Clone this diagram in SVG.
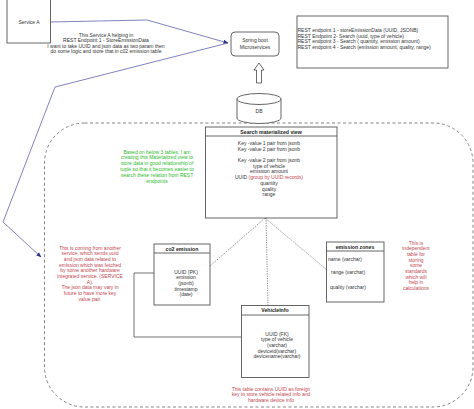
<svg xmlns="http://www.w3.org/2000/svg" width="474" height="409" viewBox="0 0 474 409">
<defs>
<style>
text{font-family:"Liberation Sans",Arial,sans-serif;font-size:5px;fill:#333}
.c{text-anchor:middle}
.b{font-weight:bold;font-size:5.2px;fill:#222}
.red{fill:#bf4752}
.grn{fill:#2dbb2d}
.box{fill:#fff;stroke:#555;stroke-width:0.9}
.blue{fill:none;stroke:#6262b0;stroke-width:0.8}
.dot{fill:none;stroke:#555;stroke-width:0.7;stroke-dasharray:1.2,1.2}
</style>
<marker id="ah" viewBox="0 0 6 6" refX="5.5" refY="3" markerWidth="5" markerHeight="5" orient="auto" markerUnits="userSpaceOnUse"><path d="M0,0.5 L6,3 L0,5.5 Z" fill="#33338a"/></marker>
<marker id="ak" viewBox="0 0 6 6" refX="5.5" refY="3" markerWidth="5" markerHeight="5" orient="auto" markerUnits="userSpaceOnUse"><path d="M0,0.5 L6,3 L0,5.5 Z" fill="#222"/></marker>
</defs>
<rect width="474" height="409" fill="#fff"/>

<g id="boundary">
<rect x="44.5" y="123" width="428.5" height="284" rx="40" ry="40" fill="none" stroke="#666" stroke-width="0.8" stroke-dasharray="3,2.5"/>
</g>

<g id="connectors">
<polyline class="blue" points="50,22 147,20 228,43" marker-end="url(#ah)"/>
<polyline class="blue" points="228,43 55,87 3,222 41,257" marker-end="url(#ah)"/>
<line class="dot" x1="265" y1="218" x2="210" y2="266"/>
<line class="dot" x1="266" y1="218" x2="268" y2="305"/>
<line x1="265" y1="218" x2="327" y2="270" stroke="#666" stroke-width="0.5" stroke-dasharray="2,0.8"/>
<polyline points="170,273 134,273 134,337 264,337" fill="none" stroke="#333" stroke-width="0.7" marker-end="url(#ak)"/>
</g>

<g id="serviceA">
<rect class="box" x="7" y="-2" width="43.5" height="45"/>
<text class="c" x="29" y="24">Service A</text>
</g>

<g id="serviceA-note">
<text class="c" x="106" y="36.5">This Service A helping in</text>
<text class="c" x="106" y="42">REST Endpoint 1 - StoreEmissionData</text>
<text class="c" x="106" y="47.5">I want to take UUID and json data as two param then</text>
<text class="c" x="106" y="53">do some logic and store that in c02 emission table</text>
</g>

<g id="springboot">
<rect class="box" x="231" y="32" width="48" height="24" rx="4"/>
<text class="c" x="255" y="42">Spring boot</text>
<text class="c" x="255" y="48.5">Microservices</text>
</g>

<g id="endpoints">
<rect class="box" x="297" y="16" width="151" height="52"/>
<text x="297.5" y="32">REST endpoint 1 - storeEmissionData (UUID, JSONB)</text>
<text x="297.5" y="37.5">REST Endpoint 2- Search (uuid, type of vehicle)</text>
<text x="297.5" y="43">REST endpoint 3 - Search ( quantity, emission amount)</text>
<text x="297.5" y="48.5">REST endpoint 4 - Search (emission amount, quality, range)</text>
</g>

<g id="uparrow">
<path d="M259,63 L264,70 L261.5,70 L261.5,83 L256.5,83 L256.5,70 L254,70 Z" fill="#fff" stroke="#444" stroke-width="0.8"/>
</g>

<g id="db">
<path d="M237,99 L237,118 A22,5.5 0 0 0 281,118 L281,99" fill="#fff" stroke="#555" stroke-width="0.9"/>
<ellipse cx="259" cy="99" rx="22" ry="5.5" fill="#fff" stroke="#555" stroke-width="0.9"/>
<text class="c" x="259" y="113">DB</text>
</g>

<g id="searchview">
<rect class="box" x="205.5" y="127" width="131.5" height="91"/>
<line x1="205.5" y1="136" x2="337" y2="136" stroke="#555" stroke-width="0.9"/>
<text class="c b" x="271" y="133.5">Search materialized view</text>
<text class="c" x="269" y="144.5">Key -value 1 pair from jsonb</text>
<text class="c" x="269" y="150.5">Key -value 2 pair from jsonb</text>
<text class="c" x="269" y="161.5">Key -value 2 pair from jsonb</text>
<text class="c" x="269" y="167.5">type of vehicle</text>
<text class="c" x="269" y="173">emission  amount</text>
<text class="c" x="269" y="178.8">UUID <tspan class="red">(group by UUID records)</tspan></text>
<text class="c" x="269" y="184.5">quantity</text>
<text class="c" x="269" y="190.5">quality</text>
<text class="c" x="269" y="196">range</text>
</g>

<g id="green-note">
<text class="c grn" x="157" y="153.5">Based on below 3 tables, I am</text>
<text class="c grn" x="157" y="159.3">creating this Materialized view  to</text>
<text class="c grn" x="157" y="165.1">store data in good relationship of</text>
<text class="c grn" x="157" y="170.9">tuple so that it becomes easier to</text>
<text class="c grn" x="157" y="176.7">search these relation from REST</text>
<text class="c grn" x="157" y="182.5">endpoints</text>
</g>

<g id="co2emission">
<rect class="box" x="154" y="244" width="56" height="61"/>
<line x1="154" y1="253" x2="210" y2="253" stroke="#555" stroke-width="0.9"/>
<text class="c b" x="182" y="250.5">co2 emission</text>
<text class="c" x="186" y="273.5">UUID (PK)</text>
<text class="c" x="186" y="279.2">emission</text>
<text class="c" x="186" y="284.9">(jsonb)</text>
<text class="c" x="186" y="290.6">timestamp</text>
<text class="c" x="186" y="296.3">(date)</text>
</g>

<g id="co2-note">
<text class="c red" x="90" y="249.5">This is coming from another</text>
<text class="c red" x="90" y="255.2">service, which sends uuid</text>
<text class="c red" x="90" y="260.9">and json data related to</text>
<text class="c red" x="90" y="266.6">emission which was fetched</text>
<text class="c red" x="90" y="272.3">by some another hardware</text>
<text class="c red" x="90" y="278">integrated service. (SERVICE</text>
<text class="c red" x="90" y="283.7">A).</text>
<text class="c red" x="90" y="289.4">The json data may vary in</text>
<text class="c red" x="90" y="295.1">future to have more key</text>
<text class="c red" x="90" y="300.8">value pair.</text>
</g>

<g id="emissionzones">
<rect class="box" x="326.5" y="242" width="57.5" height="60"/>
<line x1="326.5" y1="251" x2="384" y2="251" stroke="#555" stroke-width="0.9"/>
<text class="c b" x="355" y="248.5">emission zones</text>
<text x="328" y="261">name (varchar)</text>
<text x="331" y="274">range (varchar)</text>
<text x="330" y="289">quality (varchar)</text>
</g>

<g id="zones-note">
<text class="c red" x="416" y="244.5">This is</text>
<text class="c red" x="416" y="250.2">independent</text>
<text class="c red" x="416" y="255.9">table for</text>
<text class="c red" x="416" y="261.6">storing</text>
<text class="c red" x="416" y="267.3">some</text>
<text class="c red" x="416" y="273">standards</text>
<text class="c red" x="416" y="278.7">which will</text>
<text class="c red" x="416" y="284.4">help in</text>
<text class="c red" x="416" y="290.1">calculations</text>
</g>

<g id="vehicleinfo">
<rect class="box" x="241.5" y="305.5" width="67.5" height="72"/>
<line x1="241.5" y1="315" x2="309" y2="315" stroke="#555" stroke-width="0.9"/>
<text class="c b" x="275" y="312">VehicleInfo</text>
<text class="c" x="277" y="335.5">UUID (FK)</text>
<text class="c" x="277" y="341.2">type of vehicle</text>
<text class="c" x="277" y="346.9">(varchar)</text>
<text class="c" x="277" y="352.6">deviceid(varchar)</text>
<text class="c" x="277" y="358.3">devicename(varchar)</text>
</g>

<g id="vehicle-note">
<text class="c red" x="271" y="390.5">This table contains UUID as foreign</text>
<text class="c red" x="271" y="396.2">key to store vehicle related info  and</text>
<text class="c red" x="271" y="401.9">hardware device info</text>
</g>
</svg>
